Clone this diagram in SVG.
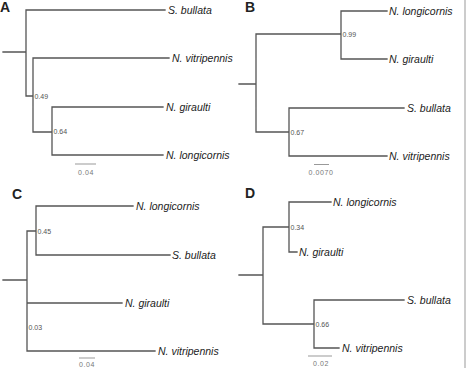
<svg xmlns="http://www.w3.org/2000/svg" width="474" height="368" viewBox="0 0 474 368">
<style>
.br{stroke:#555;stroke-width:1.3;fill:none;stroke-linecap:square}
.tx{font-family:"Liberation Sans",Arial,sans-serif;font-style:italic;font-size:10.5px;fill:#222}
.sp{font-family:"Liberation Sans",Arial,sans-serif;font-size:7px;fill:#555}
.sc{font-family:"Liberation Sans",Arial,sans-serif;font-size:7px;fill:#777;letter-spacing:0.6px}
.sb{stroke:#999;stroke-width:1;fill:none}
.pl{font-family:"Liberation Sans Narrow","Liberation Sans",Arial,sans-serif;font-weight:bold;font-size:14px;fill:#222}
</style>
<rect width="474" height="368" fill="#fff"/>
<line x1="465" y1="0" x2="465" y2="368" stroke="#999" stroke-width="1"/>
<g id="connectors">
<path class="br" d="M3,52H26M26,10V96M26,10H165M26,96H33M33,58V132M33,58H169M33,132H52M52,107V155M52,107H163M52,155H163"/>
<path class="br" d="M239,84H256M256,34V132M256,34H341M341,11V59M341,11H387M341,59H387M256,132H289M289,108V156M289,108H404M289,156H387"/>
<path class="br" d="M3,280H27M27,231V351M27,231H36M36,206V255M36,206H133M36,255H170M27,303H122M27,351H155"/>
<path class="br" d="M239,275H263M263,227V324M263,227H289M289,202V252M289,202H331M289,252H297M263,324H314M314,300V348M314,300H404M314,348H339"/>
</g>
<g id="panelA">
<text class="pl" x="0" y="12">A</text>
<text class="tx" x="168" y="14">S. bullata</text>
<text class="tx" x="172" y="62">N. vitripennis</text>
<text class="tx" x="166" y="111">N. giraulti</text>
<text class="tx" x="166" y="159">N. longicornis</text>
<text class="sp" x="34.5" y="98.5">0.49</text>
<text class="sp" x="53.5" y="133.5">0.64</text>
<line class="sb" x1="75" y1="164" x2="96" y2="164"/>
<text class="sc" x="86" y="175" text-anchor="middle">0.04</text>
</g>
<g id="panelB">
<text class="pl" x="245" y="12">B</text>
<text class="tx" x="389" y="15">N. longicornis</text>
<text class="tx" x="389" y="63">N. giraulti</text>
<text class="tx" x="407" y="112">S. bullata</text>
<text class="tx" x="389" y="160">N. vitripennis</text>
<text class="sp" x="342.5" y="36.5">0.99</text>
<text class="sp" x="290.5" y="134.5">0.67</text>
<line class="sb" x1="314" y1="164.5" x2="329" y2="164.5"/>
<text class="sc" x="321" y="175" text-anchor="middle">0.0070</text>
</g>
<g id="panelC">
<text class="pl" x="12" y="199">C</text>
<text class="tx" x="136" y="210">N. longicornis</text>
<text class="tx" x="172" y="259">S. bullata</text>
<text class="tx" x="125" y="307">N. giraulti</text>
<text class="tx" x="158" y="355">N. vitripennis</text>
<text class="sp" x="37.5" y="233.5">0.45</text>
<text class="sp" x="28.5" y="329.5">0.03</text>
<line class="sb" x1="79" y1="358" x2="95" y2="358"/>
<text class="sc" x="87" y="367" text-anchor="middle">0.04</text>
</g>
<g id="panelD">
<text class="pl" x="245" y="198">D</text>
<text class="tx" x="333" y="206">N. longicornis</text>
<text class="tx" x="299" y="256">N. giraulti</text>
<text class="tx" x="407" y="304">S. bullata</text>
<text class="tx" x="342" y="352">N. vitripennis</text>
<text class="sp" x="290.5" y="229.5">0.34</text>
<text class="sp" x="315.5" y="326.5">0.66</text>
<line class="sb" x1="308" y1="356" x2="332" y2="356"/>
<text class="sc" x="321" y="366" text-anchor="middle">0.02</text>
</g>
</svg>
